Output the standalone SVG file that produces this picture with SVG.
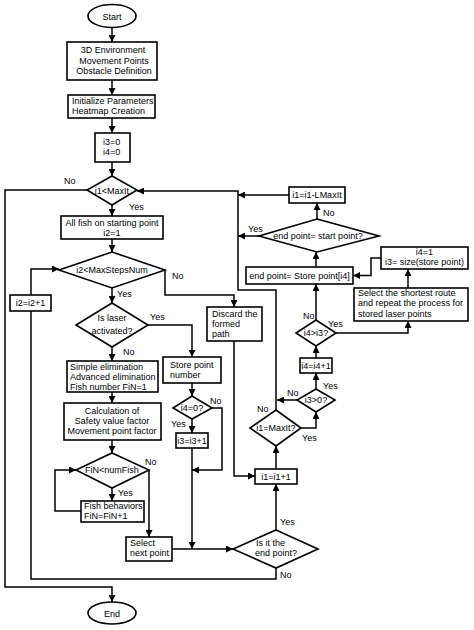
<svg xmlns="http://www.w3.org/2000/svg" width="474" height="630" viewBox="0 0 474 630">
<style>
.s{fill:#fff;stroke:#000;stroke-width:1.6}
.c{fill:none;stroke:#000;stroke-width:1.5}
text{font-family:"Liberation Sans",Arial,sans-serif;font-size:9px;fill:#000}
.m{text-anchor:middle}
</style>
<defs>
<marker id="a" viewBox="0 0 10 10" refX="10" refY="5" markerWidth="8" markerHeight="7" orient="auto" markerUnits="userSpaceOnUse"><path d="M0,0 L10,5 L0,10 z" fill="#000"/></marker>
</defs>
<rect width="474" height="630" fill="#fff"/>
<g id="connectors">
<path class="c" d="M112,27.5 V42" marker-end="url(#a)"/>
<path class="c" d="M112,80 V95" marker-end="url(#a)"/>
<path class="c" d="M112,118 V133" marker-end="url(#a)"/>
<path class="c" d="M112,162 V176" marker-end="url(#a)"/>
<path class="c" d="M112,205 V216" marker-end="url(#a)"/>
<path class="c" d="M87,190 H5 V587 H112 V602" marker-end="url(#a)"/>
<path class="c" d="M112,239 V252" marker-end="url(#a)"/>
<path class="c" d="M112,288 V303" marker-end="url(#a)"/>
<path class="c" d="M165,270 V295 H234 V307" marker-end="url(#a)"/>
<path class="c" d="M148,325 H192 V357" marker-end="url(#a)"/>
<path class="c" d="M112,347 V361" marker-end="url(#a)"/>
<path class="c" d="M112,392 V403" marker-end="url(#a)"/>
<path class="c" d="M112,440 V453" marker-end="url(#a)"/>
<path class="c" d="M112,488 V501" marker-end="url(#a)"/>
<path class="c" d="M81,511 H55 V470 H76" marker-end="url(#a)"/>
<path class="c" d="M149,470 V537" marker-end="url(#a)"/>
<path class="c" d="M172,549 H233" marker-end="url(#a)"/>
<path class="c" d="M192,383 V396" marker-end="url(#a)"/>
<path class="c" d="M192,419 V433" marker-end="url(#a)"/>
<path class="c" d="M212,408 H222 V470 H192" marker-end="url(#a)"/>
<path class="c" d="M192,448 V549" marker-end="url(#a)"/>
<path class="c" d="M234,341 V476 H255" marker-end="url(#a)"/>
<path class="c" d="M276,530 V484" marker-end="url(#a)"/>
<path class="c" d="M276,568 V579 H31 V269 H59" marker-end="url(#a)"/>
<path class="c" d="M276,469 V446" marker-end="url(#a)"/>
<path class="c" d="M301,428 H316 V412" marker-end="url(#a)"/>
<path class="c" d="M276,410 V290 H238 V191 H137" marker-end="url(#a)"/>
<path class="c" d="M297,400 H277" marker-end="url(#a)"/>
<path class="c" d="M316,389 V373" marker-end="url(#a)"/>
<path class="c" d="M316,358 V346" marker-end="url(#a)"/>
<path class="c" d="M316,320 V284" marker-end="url(#a)"/>
<path class="c" d="M336,333 H408 V321" marker-end="url(#a)"/>
<path class="c" d="M408,288 V269" marker-end="url(#a)"/>
<path class="c" d="M381,258 H371 V275.5 H353" marker-end="url(#a)"/>
<path class="c" d="M316,267 V252" marker-end="url(#a)"/>
<path class="c" d="M317,219 V203" marker-end="url(#a)"/>
<path class="c" d="M259,236 H238" marker-end="url(#a)"/>
<path class="c" d="M289,195 H238" marker-end="url(#a)"/>
<text x="64" y="184">No</text>
<text x="129" y="210">Yes</text>
<text x="117" y="297">Yes</text>
<text x="172" y="279">No</text>
<text x="150" y="320">Yes</text>
<text x="123" y="355">No</text>
<text x="118" y="496">Yes</text>
<text x="145" y="465">No</text>
<text x="171" y="427">Yes</text>
<text x="210" y="404">No</text>
<text x="280" y="525">Yes</text>
<text x="280" y="578">No</text>
<text x="302" y="441">Yes</text>
<text x="257" y="412">No</text>
<text x="287" y="396">No</text>
<text x="323" y="389">Yes</text>
<text x="303" y="319">No</text>
<text x="328" y="327">Yes</text>
<text x="323" y="216">No</text>
<text x="248" y="232">Yes</text>
</g>
<g id="start"><ellipse class="s" cx="112" cy="16" rx="24" ry="11.5"/><text class="m" x="112" y="19.5">Start</text></g>
<g id="env"><rect class="s" x="67" y="42" width="90" height="38"/><text class="m" x="113" y="53">3D Environment</text><text class="m" x="114" y="64">Movement Points</text><text class="m" x="114" y="74">Obstacle Definition</text></g>
<g id="init"><rect class="s" x="68" y="95" width="87" height="23"/><text x="72" y="104">Initialize Parameters</text><text x="72" y="114">Heatmap Creation</text></g>
<g id="i3i4"><rect class="s" x="95" y="133" width="35" height="29"/><text x="103" y="145">i3=0</text><text x="103" y="155">i4=0</text></g>
<g id="d_i1"><path class="s" d="M112,176 L137,190 L112,205 L87,190 Z"/><text class="m" x="112" y="193.5">i1&lt;MaxIt</text></g>
<g id="allfish"><rect class="s" x="61" y="216" width="102" height="23"/><text class="m" x="112" y="226">All fish on starting point</text><text class="m" x="112" y="236">i2=1</text></g>
<g id="d_i2"><path class="s" d="M112,252 L165,270 L112,288 L59,270 Z"/><text class="m" x="112" y="273">i2&lt;MaxStepsNum</text></g>
<g id="i2inc"><rect class="s" x="10" y="295" width="41" height="16"/><text class="m" x="30.5" y="306">i2=i2+1</text></g>
<g id="d_laser"><path class="s" d="M112,303 L148,325 L112,347 L76,325 Z"/><text class="m" x="112" y="321">Is laser</text><text class="m" x="112" y="334">activated?</text></g>
<g id="elim"><rect class="s" x="67" y="361" width="91" height="31"/><text x="70" y="370">Simple elimination</text><text x="70" y="380">Advanced elimination</text><text x="70" y="390">Fish number FiN=1</text></g>
<g id="calc"><rect class="s" x="64" y="403" width="97" height="37"/><text class="m" x="112" y="414">Calculation of</text><text class="m" x="112" y="424">Safety value factor</text><text class="m" x="112" y="434">Movement point factor</text></g>
<g id="d_fin"><path class="s" d="M112,453 L149,470 L112,488 L76,470 Z"/><text class="m" x="112" y="473">FiN&lt;numFish</text></g>
<g id="fishbeh"><rect class="s" x="81" y="501" width="63" height="21"/><text x="84" y="509">Fish behaviors</text><text x="84" y="519">FiN=FiN+1</text></g>
<g id="selnext"><rect class="s" x="126" y="537" width="46" height="24"/><text x="130" y="546">Select</text><text x="130" y="556">next point</text></g>
<g id="d_endpt"><path class="s" d="M276,530 L318,549 L276,568 L233,549 Z"/><text x="256" y="546">Is it the</text><text x="255" y="556">end point?</text></g>
<g id="store"><rect class="s" x="163" y="357" width="58" height="26"/><text x="170" y="368">Store point</text><text x="170" y="378">number</text></g>
<g id="d_i4z"><path class="s" d="M192,396 L212,408 L192,419 L173,408 Z"/><text class="m" x="192" y="411">i4=0?</text></g>
<g id="i3inc"><rect class="s" x="176" y="433" width="32" height="15"/><text class="m" x="192" y="444">i3=i3+1</text></g>
<g id="discard"><rect class="s" x="207" y="307" width="55" height="34"/><text x="212" y="317">Discard the</text><text x="212" y="327">formed</text><text x="212" y="337">path</text></g>
<g id="i1inc"><rect class="s" x="255" y="469" width="42" height="15"/><text class="m" x="276" y="480">i1=i1+1</text></g>
<g id="d_i1max"><path class="s" d="M276,410 L301,428 L276,446 L250,428 Z"/><text class="m" x="276" y="431">i1=MaxIt?</text></g>
<g id="d_i3"><path class="s" d="M316,389 L335,400 L316,412 L297,400 Z"/><text class="m" x="316" y="403">i3&gt;0?</text></g>
<g id="i4inc"><rect class="s" x="300" y="358" width="32" height="15"/><text class="m" x="316" y="369">i4=i4+1</text></g>
<g id="d_i4i3"><path class="s" d="M316,320 L336,333 L316,346 L296,333 Z"/><text class="m" x="316" y="336">i4&gt;i3?</text></g>
<g id="shortest"><rect class="s" x="354" y="288" width="114" height="33"/><text x="358" y="296">Select the shortest route</text><text x="358" y="306">and repeat the process for</text><text x="358" y="317">stored laser points</text></g>
<g id="i4set"><rect class="s" x="381" y="247" width="87" height="22"/><text class="m" x="424.5" y="255">i4=1</text><text class="m" x="424.5" y="265">i3= size(store point)</text></g>
<g id="endstore"><rect class="s" x="246" y="267" width="107" height="17"/><text class="m" x="299.5" y="279">end point= Store point[i4]</text></g>
<g id="d_startpt"><path class="s" d="M317,219 L379,236 L317,252 L259,236 Z"/><text class="m" x="318" y="239">end point= start point?</text></g>
<g id="i1sub"><rect class="s" x="289" y="187" width="56" height="16"/><text class="m" x="317" y="198">i1=i1-LMaxIt</text></g>
<g id="end"><ellipse class="s" cx="112" cy="613" rx="24" ry="11"/><text class="m" x="112" y="616.5">End</text></g>
</svg>
